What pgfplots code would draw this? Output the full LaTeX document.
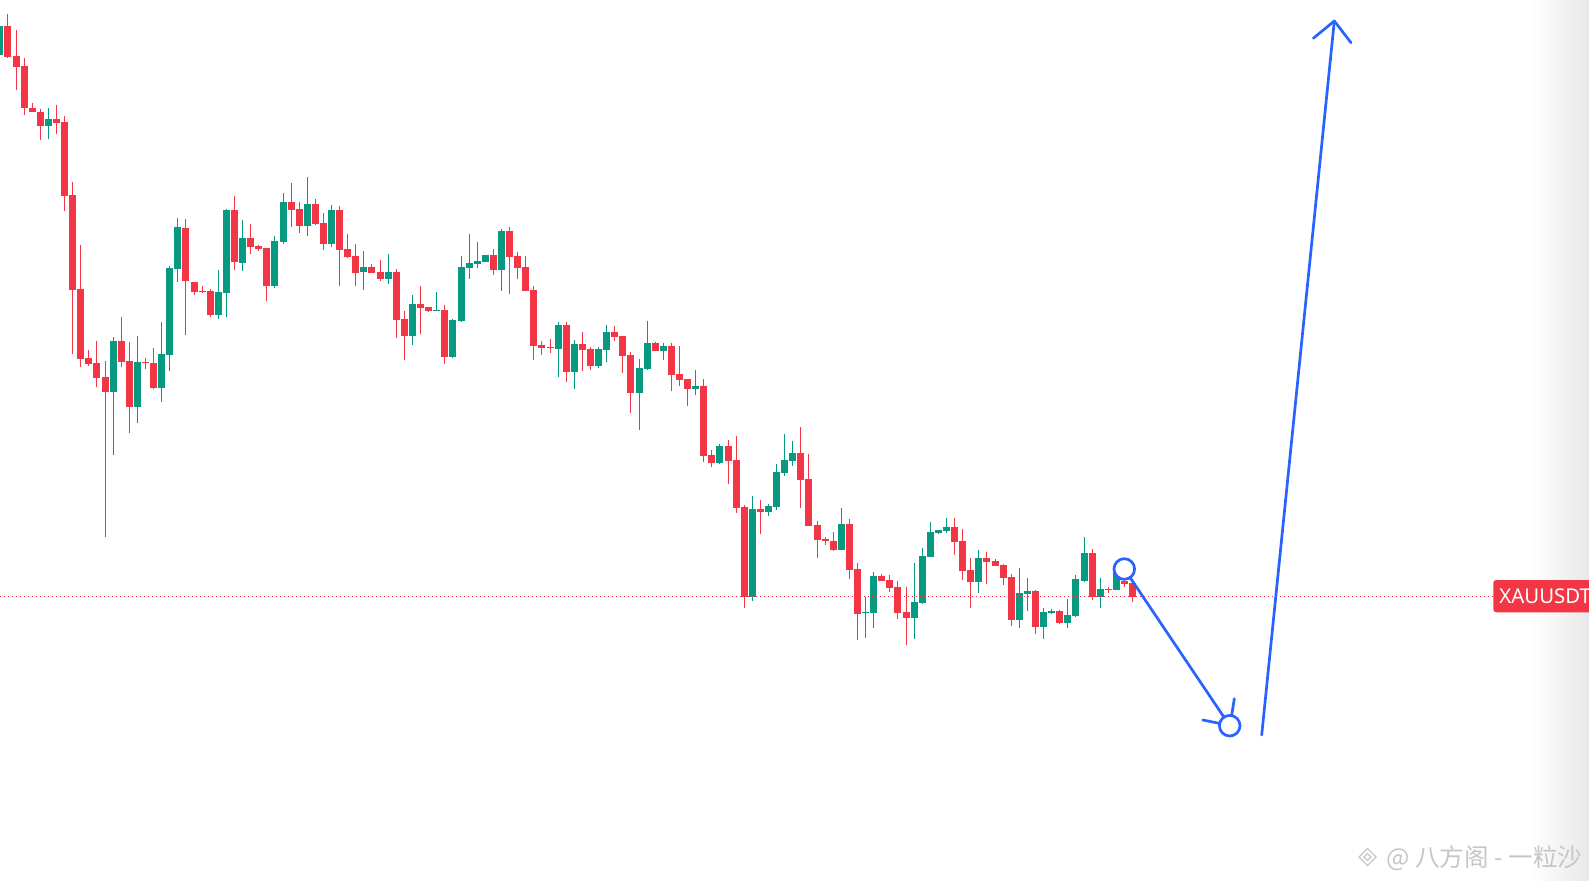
\documentclass[border=0pt]{standalone}
\usepackage{pgfplots}
\pgfplotsset{compat=1.18}
\usepackage{pgfplotstable}
\usepackage{fontspec}
\setmainfont{Liberation Sans}
\newfontfamily\lab{Noto Sans}
\newfontfamily\cjk{Noto Sans CJK SC}
\definecolor{cred}{HTML}{F23645}
\definecolor{cgreen}{HTML}{089981}
\definecolor{cblue}{HTML}{2962FF}
\definecolor{wm}{HTML}{C6C6C6}

% pixel coordinates: x, body top, body bottom, wick high, wick low
\pgfplotstableread{
x top bot hi lo
7.3 26 57 14 58.3
16.3 56.3 67.3 29.7 89.7
24.3 66.3 108.3 58.3 115
32.3 107.7 112.3 102.7 112.3
40.3 111.7 126 108.7 140
56.3 118.7 123 104.7 134
64.3 122.3 196 115.7 211
72.3 195.3 289.7 181.7 354
80.3 289 359 244.7 366.7
88.3 358.3 363.7 350.3 365.7
96.3 363 377.7 341.3 387.3
105.3 377 392.3 361 536.7
121.3 341.3 361.7 316.7 366.7
129.3 361 407 342.3 432.7
145.3 362 363 358 368.7
153.3 363 388.3 348 389.3
185.3 228 281 219 335
194.3 282 291.7 282 294.7
202.3 290.7 292 286 292.7
210.3 291 315 288.7 316.7
234.3 210 261.7 196 270
250.3 238 246.7 224 253.7
258.3 246 248.7 245 250.7
266.3 248 285.7 248 300.7
291.7 202 209.7 183 226.7
299.7 209 225.7 202 232.7
315.7 204 223.7 199 224.7
323.7 223 243.7 213 249.7
339.7 210 249.7 206 285.7
347.7 249 256.7 234 257.7
355.7 256 272.7 244 285.7
371.7 267 272.7 264 272.7
380.3 272 278.7 260 280.7
396.3 272 319.7 269 337.7
404.3 319 335.7 311 359.7
420.3 304 307.7 286 333.7
428.3 307 310.7 307 312
444.3 310 356.7 305 363.7
493.3 255 269.7 249 274.7
509.3 231 256.7 227 293.7
517.3 256 267.7 252 278.7
525.3 267 291.3 256 291.3
533.3 290 345.7 286 359.7
541.3 345 347.7 341 354.7
550.3 346.7 347.7 339 352.7
566.3 325 371.7 322 381.7
582.3 344 349.7 332 370.7
590.3 349 365.7 347 369.7
614.3 332 336.7 326 340.7
622.3 336 355.7 336 372.7
630.3 355 392.7 352 412.7
655.3 343 350.7 342 350.7
671.3 346 374.7 343 390.7
679.3 374 379.7 346 385.7
687.3 379 389 379 406
703.3 386 455.7 379 461.7
711.3 455 462.7 450 466.7
728.3 446 460.7 440 483.7
736.3 460 507.7 436 512.7
744.3 506.7 596.7 504.7 607.7
760.3 508.7 511.7 500 533.7
800.3 453 479.7 427 507.7
808.3 478.7 525.7 454 525.7
817.3 525 539.7 520.7 557.7
825.3 539 540.7 536.7 544.7
833.3 541 550 532 551
849.3 524 569.7 519 579
857.3 569 613.7 563 639.7
881.3 576 580.7 574 580.7
889.3 580 587.7 575 591.7
897.3 587 612.7 581 618.7
906.3 612 617.7 587 644.7
954.3 527 541.7 518 554.7
962.3 541 570.7 529 579.7
970.3 570 581.7 557.7 607.7
986.3 558 561.7 552 583.7
995.3 561 565.7 559 565.7
1003.3 565 577.7 564 584.7
1011.3 577 619.7 574 625.7
1035.3 591 626.7 590 633.7
1059.3 610.7 622.7 609.7 623.7
1092.3 553 596.7 549 599.7
1108.3 589 590 586.7 592.7
1124.3 580.7 583.7 578 586.7
1132.3 583 596.7 582 601.7
}\redtab

\pgfplotstableread{
x top bot hi lo
-0.7 26 55 20 57
48.3 118.7 126 107.7 139
113.3 341.3 392.3 337.3 455.3
137.3 362 407 336.3 423
161.3 354.3 388.3 322.3 402.3
169.3 268.3 355 266.3 370.7
177.3 227 269 218 282
218.3 292 315 270 318.7
226.3 210 292.7 209 316.7
242.3 238 262.7 220 270.7
274.3 241 285.7 236 287.7
283.7 202 241.7 193 243.7
307.7 204 225.7 177 235.7
331.7 210 243.7 205 246.7
363.7 267 271.7 251 289.7
388.3 272 278.7 254 283.7
412.3 304 335.7 295 344.7
436.3 309.7 310.7 292 310.7
452.3 320 356.7 319 357.7
461.3 267 321 256 321.7
469.3 263 267.7 234 278.7
477.3 261 263.7 242 267.7
485.3 255 261.7 255 261.7
501.3 231 269.7 229 290.7
558.3 325 348.7 322 376.7
574.3 344 371.7 340 388.7
598.3 349 365.7 347 367.7
606.3 332 349.7 325 361.7
639.3 368 392.7 359 429.7
647.3 343 368.7 321 369.7
663.3 346 350.7 343 359.7
695.3 386 388.7 370 395
719.3 446 462.7 444 463.7
752.3 508.7 596.7 496 600.7
768.3 505.7 511.7 503.7 515.7
776.3 471.7 506.7 464 509.7
784.3 459.7 472.7 434 475.7
792.3 453 460.7 441 465.7
841.3 524 550 508 550
865.3 612 613 596.7 637.7
873.3 576 613 572 627.7
914.3 602 617.7 563 638.7
922.3 556 602.7 548 603.7
930.3 532 556.7 522 556.7
938.3 530 532.7 530 533.7
946.3 527 531 518 533
978.3 558 581.7 550 592.7
1019.3 593 619.7 568 627.7
1027.3 591 593.7 578 610.7
1043.3 612 626.7 607.7 638.7
1051.3 610.7 612.7 608.7 613.7
1067.3 615 622.7 598.7 627.7
1075.3 578.7 615.7 574.7 616.7
1084.3 553 580.7 537 581.7
1100.3 589 596.7 578 607.7
1116.3 571 590 565 590
}\greentab

\begin{document}
\begin{tikzpicture}
\useasboundingbox (0,0) rectangle (794.5pt,440.5pt);
\begin{axis}[
  at={(0,0)}, anchor=south west,
  scale only axis, width=794.5pt, height=440.5pt,
  xmin=0, xmax=1589, ymin=0, ymax=881, y dir=reverse,
  axis line style={draw=none}, xtick=\empty, ytick=\empty,
  clip=true,
  candle/.style={draw=none, no markers, forget plot,
    error bars/.cd, y dir=plus, y explicit, error mark=none},
]
% right edge shade
\fill[left color=white, right color=black!9] (axis cs:1530,0) rectangle (axis cs:1589,881);

% wicks
\addplot[candle, error bar style={draw=cred, line width=0.6pt}]
  table[x=x, y=hi, y error plus expr=\thisrow{lo}-\thisrow{hi}] {\redtab};
\addplot[candle, error bar style={draw=cgreen, line width=0.6pt}]
  table[x=x, y=hi, y error plus expr=\thisrow{lo}-\thisrow{hi}] {\greentab};
% bodies
\addplot[candle, error bar style={draw=cred, line width=3.3pt}]
  table[x=x, y=top, y error plus expr=\thisrow{bot}-\thisrow{top}] {\redtab};
\addplot[candle, error bar style={draw=cgreen, line width=3.3pt}]
  table[x=x, y=top, y error plus expr=\thisrow{bot}-\thisrow{top}] {\greentab};

% last price line
\addplot[cred, line width=0.6pt, dash pattern=on 0.6pt off 1.4pt, forget plot]
  coordinates {(0,596.3) (1493,596.3)};

% price label
\fill[cred, rounded corners=1.5pt] (axis cs:1493.3,580) rectangle (axis cs:1610,612.3);
\node[anchor=west, text=white, inner sep=0pt, font=\lab\fontsize{10.2}{12}\selectfont]
  at (axis cs:1499,596.4) {XAUUSDT};

% drawings
\draw[cblue, line width=1.35pt, line cap=round] (axis cs:1130.05,577.5) -- (axis cs:1223.95,717.15);
\draw[cblue, line width=1.35pt, fill=white] (axis cs:1124.3,569) circle[radius=5.15pt];
\draw[cblue, line width=1.35pt, fill=white] (axis cs:1229.7,725.7) circle[radius=5.15pt];
\draw[cblue, line width=1.35pt, line cap=round] (axis cs:1202.7,720) -- (axis cs:1219.3,723.3);
\draw[cblue, line width=1.35pt, line cap=round] (axis cs:1234.3,698.7) -- (axis cs:1231.7,715);
\draw[cblue, line width=1.35pt, line cap=round] (axis cs:1261.7,735) -- (axis cs:1334.3,21);
\draw[cblue, line width=1.35pt, line cap=round, line join=round]
  (axis cs:1313.3,38.3) -- (axis cs:1334.3,21) -- (axis cs:1351,42.7);

% watermark
\draw[wm, line width=0.6pt] (axis cs:1367.5,848.5) -- (axis cs:1376,857) -- (axis cs:1367.5,865.5) -- (axis cs:1359,857) -- cycle;
\draw[wm, line width=0.6pt] (axis cs:1367.5,853.5) -- (axis cs:1371,857) -- (axis cs:1367.5,860.5) -- (axis cs:1364,857) -- cycle;
\node[anchor=base west, text=wm, inner sep=0pt, font=\cjk\fontsize{12.3}{14}\selectfont]
  at (axis cs:1386,866) {@ 八方阁 - 一粒沙};
\end{axis}
\end{tikzpicture}
\end{document}
